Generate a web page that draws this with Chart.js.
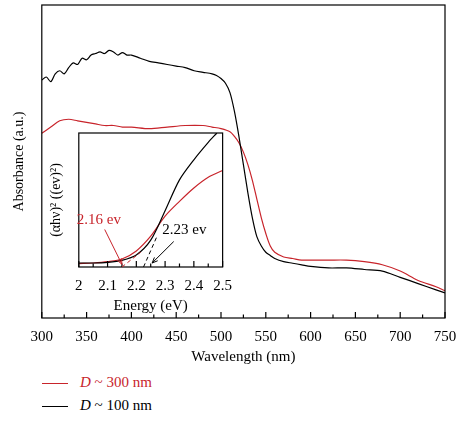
<!DOCTYPE html>
<html><head><meta charset="utf-8">
<script src="https://cdn.jsdelivr.net/npm/chart.js@4/dist/chart.umd.min.js"></script>
<style>
body{margin:0;background:#fff;width:474px;height:435px;overflow:hidden;font-family:"Liberation Serif",serif}
#wrap{position:absolute;left:0;top:0;width:474px;height:370px}
#inwrap{position:absolute;left:44px;top:125px;width:190px;height:194px;}
.lg{position:absolute;left:42px;font-size:15px;}
.lg span.l{display:inline-block;width:26px;height:0;border-top:1.5px solid;vertical-align:middle;margin-right:12px}
</style></head><body>
<div id="wrap"><canvas id="main"></canvas></div>
<div id="inwrap"><canvas id="inset"></canvas></div>
<div class="lg" style="top:374px;color:#c8242b"><span class="l" style="border-color:#c8242b"></span><i>D</i> ~ 300 nm</div>
<div class="lg" style="top:397px;color:#000"><span class="l" style="border-color:#000"></span><i>D</i> ~ 100 nm</div>
<script>
const blackWl = [300,305,310,315,320,325,330,335,340,345,350,355,360,365,370,375,380,385,390,395,400,410,420,430,440,450,460,470,480,490,495,500,505,510,515,520,525,530,535,540,545,550,555,560,570,580,590,600,620,640,660,680,700,720,740,750];
const blackAbs = [76,77,75.5,78,79,78,80,81.5,81,83,82.5,84,84.5,85,84.5,85.5,85,84,84.8,84,84,83,82,81.5,81,80.5,80,79,78.5,78,77.5,76.5,75,72,66,58,49,40,32,26,23,21,20,19,18,17.5,17,16.5,16,16,15.5,15,13,11,9,8];
const redWl = [300,310,320,330,340,350,360,370,380,390,400,420,440,460,480,490,500,510,515,520,525,530,535,540,545,550,555,560,570,580,590,600,620,640,660,680,700,720,740,750];
const redAbs = [59,61,63,63.5,63,62.5,62,61.5,61.5,61,61,60.5,61,61.5,61.5,61,60.5,59.5,58,56,53,49,44,38,32,27,23,21,19.5,19,18.5,18.5,18.5,18.5,18,17,15,12,10,8.7];
const xTicks = [300,350,400,450,500,550,600,650,700,750];
const eBlack = [2.0,2.05,2.1,2.15,2.2,2.25,2.3,2.35,2.4,2.45,2.48];
const aBlack = [3,3,3.5,5,9,20,42,65,80,93,100];
const eRed = [2.0,2.05,2.1,2.15,2.2,2.25,2.3,2.35,2.4,2.45,2.5];
const aRed = [2.5,3,4,6,12,23,38,49,59,67,72];
const eTicks = [2,2.1,2.2,2.3,2.4,2.5];
const RED='#c8242b';
const font = {family:'"Liberation Serif", serif', size:15};

const frame = {id:'frame', afterDraw(c,a,o){
  const {ctx,chartArea:ca,scales}=c;const xs=scales.x;
  ctx.save();ctx.strokeStyle='#000';ctx.lineWidth=1.2;
  ctx.strokeRect(ca.left,ca.top,ca.right-ca.left,ca.bottom-ca.top);
  const step=o.minor;
  for(let v=xs.min;v<=xs.max+1e-9;v+=step){
    const px=xs.getPixelForValue(v);const major=Math.abs(((v-xs.min)/o.major)-Math.round((v-xs.min)/o.major))<1e-6;
    ctx.beginPath();ctx.moveTo(px,ca.bottom);ctx.lineTo(px,ca.bottom-(major?6:3.5));ctx.stroke();
  }
  ctx.restore();
}};

new Chart(document.getElementById('main'),{type:'line',
 data:{datasets:[
  {data:blackWl.map((x,i)=>({x,y:blackAbs[i]})),borderColor:'#000',borderWidth:1.2,pointRadius:0,tension:0.3},
  {data:redWl.map((x,i)=>({x,y:redAbs[i]})),borderColor:RED,borderWidth:1.2,pointRadius:0,tension:0.3}]},
 options:{responsive:true,maintainAspectRatio:false,animation:false,
  layout:{padding:{top:5,right:29,left:7}},
  plugins:{legend:{display:false},tooltip:{enabled:false},frame:{major:50,minor:25}},
  scales:{
   x:{type:'linear',min:300,max:750,grid:{display:false},border:{display:false},
      afterBuildTicks(s){s.ticks=xTicks.map(v=>({value:v}));},
      ticks:{font,color:'#000',maxRotation:0,padding:2},
      title:{display:true,text:'Wavelength (nm)',font,color:'#000',padding:{top:0}}},
   y:{min:0,max:100,grid:{display:false},border:{display:false},ticks:{display:false},
      title:{display:true,text:'Absorbance (a.u.)',font:{...font,size:14},color:'#000',padding:{bottom:6}}}
  }},plugins:[frame]});

const annot={id:'annot',afterDraw(c){
  const {ctx,scales:{x,y}}=c;
  ctx.save();
  ctx.setLineDash([4,3]);ctx.lineWidth=1;
  ctx.strokeStyle=RED;ctx.beginPath();ctx.moveTo(x.getPixelForValue(2.15),y.getPixelForValue(0));ctx.lineTo(x.getPixelForValue(2.215),y.getPixelForValue(11));ctx.stroke();
  ctx.strokeStyle='#000';ctx.beginPath();ctx.moveTo(x.getPixelForValue(2.225),y.getPixelForValue(0));ctx.lineTo(x.getPixelForValue(2.27),y.getPixelForValue(22));ctx.stroke();
  ctx.setLineDash([]);
  function arrow(x1,y1,x2,y2,col){ctx.strokeStyle=col;ctx.fillStyle=col;ctx.beginPath();ctx.moveTo(x1,y1);ctx.lineTo(x2,y2);ctx.stroke();
    const a=Math.atan2(y2-y1,x2-x1),L=6;ctx.beginPath();ctx.moveTo(x2,y2);ctx.lineTo(x2-L*Math.cos(a-0.4),y2-L*Math.sin(a-0.4));ctx.moveTo(x2,y2);ctx.lineTo(x2-L*Math.cos(a+0.4),y2-L*Math.sin(a+0.4));ctx.stroke();}
  arrow(x.getPixelForValue(2.09),y.getPixelForValue(28),x.getPixelForValue(2.15),y.getPixelForValue(2),RED);
  arrow(x.getPixelForValue(2.33),y.getPixelForValue(19),x.getPixelForValue(2.255),y.getPixelForValue(3),'#000');
  ctx.font='15px "Liberation Serif", serif';
  ctx.fillStyle=RED;ctx.fillText('2.16 ev',x.getPixelForValue(2.0)-2,y.getPixelForValue(32));
  ctx.fillStyle='#000';ctx.fillText('2.23 ev',x.getPixelForValue(2.29),y.getPixelForValue(25));
  ctx.restore();
}};
const inframe={id:'inframe',beforeDraw(c){const {ctx,chartArea:ca}=c;ctx.save();ctx.fillStyle='#fff';ctx.fillRect(ca.left,ca.top,ca.right-ca.left,ca.bottom-ca.top);ctx.restore();}};

new Chart(document.getElementById('inset'),{type:'line',
 data:{datasets:[
  {data:eBlack.map((x,i)=>({x,y:aBlack[i]})),borderColor:'#000',borderWidth:1.2,pointRadius:0,tension:0.3},
  {data:eRed.map((x,i)=>({x,y:aRed[i]})),borderColor:RED,borderWidth:1.2,pointRadius:0,tension:0.3}]},
 options:{responsive:true,maintainAspectRatio:false,animation:false,
  layout:{padding:{top:8,right:10}},
  plugins:{legend:{display:false},tooltip:{enabled:false},frame:{major:0.1,minor:0.05}},
  scales:{
   x:{type:'linear',min:2,max:2.5,grid:{display:false},border:{display:false},
      afterBuildTicks(s){s.ticks=eTicks.map(v=>({value:v}));},
      ticks:{font,color:'#000',maxRotation:0,padding:2,callback:v=>String(Math.round(v*10)/10)},
      title:{display:true,text:'Energy (eV)',font,color:'#000',padding:{top:0}}},
   y:{min:0,max:100,grid:{display:false},border:{display:false},ticks:{display:false},
      title:{display:true,text:'(αhν)² ((ev)²)',font:{...font,size:14},color:'#000',padding:{bottom:6}}}
  }},plugins:[inframe,frame,annot]});
</script></body></html>
